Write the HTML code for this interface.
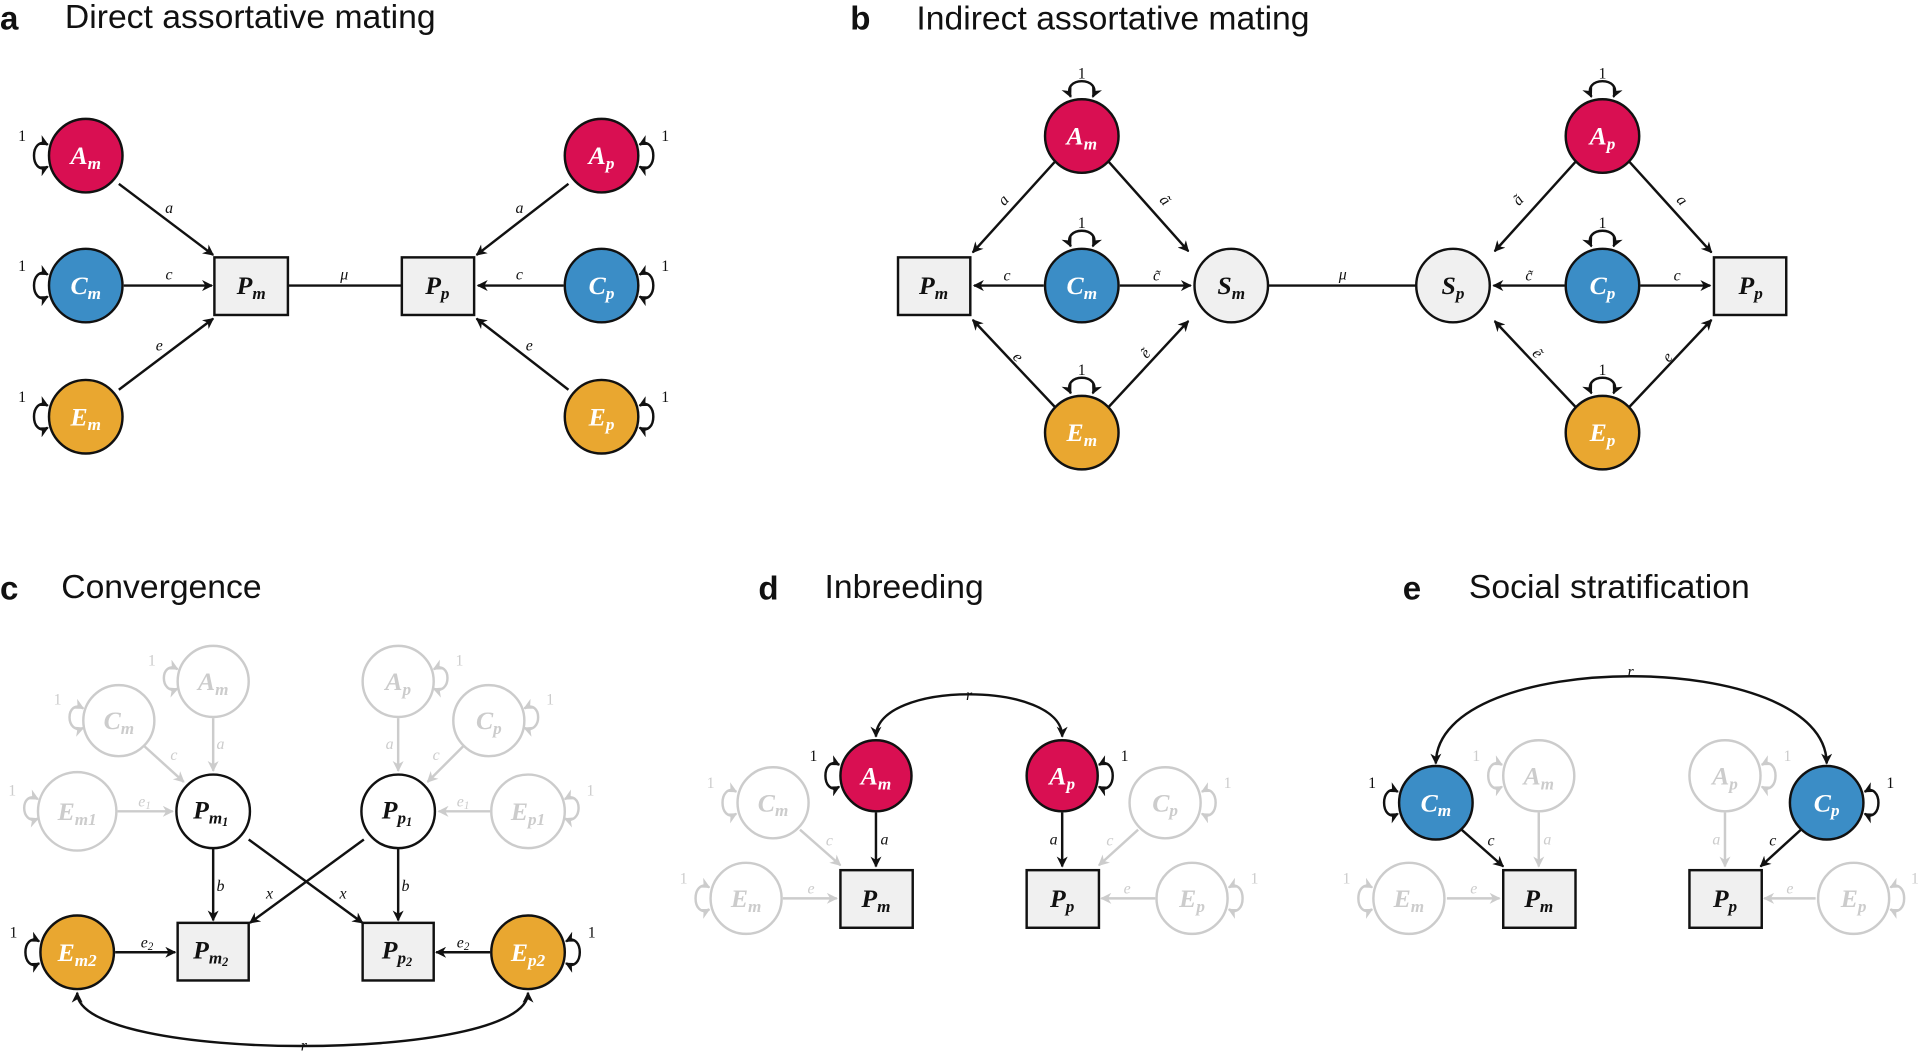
<!DOCTYPE html>
<html><head><meta charset="utf-8"><style>
html,body{margin:0;padding:0;background:#fff;}
svg{display:block}
.h{font-family:"Liberation Sans",sans-serif;font-size:27.5px;fill:#111}
.hb{font-family:"Liberation Sans",sans-serif;font-size:27px;font-weight:bold;fill:#111}
.nl{font-family:"Liberation Serif",serif;font-style:italic;font-weight:bold;font-size:21px;text-anchor:middle}
.el{font-family:"Liberation Serif",serif;font-style:italic;font-size:13px;text-anchor:middle;fill:#111}
.one{font-family:"Liberation Serif",serif;font-size:13px;text-anchor:middle;fill:#111}
.w{fill:#fff}.k{fill:#111}.g{fill:#ccc}
.ln{stroke:#111;stroke-width:2;fill:none}
.lg{stroke:#ccc;stroke-width:2;fill:none}
.ob{stroke:#111;stroke-width:2}
.og{stroke:#ccc;stroke-width:2;fill:#fff}
</style></head><body>
<svg width="1921" height="1054" viewBox="0 0 1568 860" preserveAspectRatio="none" xmlns="http://www.w3.org/2000/svg">
<defs>
<marker id="ak" viewBox="0 0 10 10" refX="9" refY="5" markerWidth="9" markerHeight="9" markerUnits="userSpaceOnUse" orient="auto-start-reverse"><path d="M0,0 L10,5 L0,10 L3,5 z" fill="#111"/></marker>
<marker id="ag" viewBox="0 0 10 10" refX="9" refY="5" markerWidth="9" markerHeight="9" markerUnits="userSpaceOnUse" orient="auto-start-reverse"><path d="M0,0 L10,5 L0,10 L3,5 z" fill="#ccc"/></marker>
</defs>

<text class="hb" x="0" y="24">a</text><text class="h" x="53" y="23">Direct assortative mating</text>
<text class="hb" x="694" y="24">b</text><text class="h" x="748" y="24">Indirect assortative mating</text>
<text class="hb" x="0" y="489">c</text><text class="h" x="50" y="488">Convergence</text>
<text class="hb" x="619" y="489">d</text><text class="h" x="673" y="488">Inbreeding</text>
<text class="hb" x="1145" y="489">e</text><text class="h" x="1199" y="488">Social stratification</text>

<g>
<path class="ln" d="M97,150 L174,208" marker-end="url(#ak)"/><text class="el" x="138" y="174">a</text>
<path class="ln" d="M101,233 L173,233" marker-end="url(#ak)"/><text class="el" x="138" y="228">c</text>
<path class="ln" d="M97,318 L174,260" marker-end="url(#ak)"/><text class="el" x="130" y="286">e</text>
<path class="ln" d="M235,233 L328,233"/><text class="el" x="281" y="228">μ</text>
<path class="ln" d="M464,150 L389,208" marker-end="url(#ak)"/><text class="el" x="424" y="174">a</text>
<path class="ln" d="M460,233 L390,233" marker-end="url(#ak)"/><text class="el" x="424" y="228">c</text>
<path class="ln" d="M464,318 L389,260" marker-end="url(#ak)"/><text class="el" x="432" y="286">e</text>
<rect x="175" y="210" width="60" height="47" fill="#f0f0f0" class="ob"/><text class="nl k" x="205" y="240">P<tspan font-size="14" dy="4">m</tspan></text>
<rect x="328" y="210" width="59" height="47" fill="#f0f0f0" class="ob"/><text class="nl k" x="357" y="240">P<tspan font-size="14" dy="4">p</tspan></text>
<circle cx="70" cy="127" r="30" fill="#d90f52" class="ob"/><text class="nl w" x="70" y="134">A<tspan font-size="14" dy="4">m</tspan></text>
<circle cx="70" cy="233" r="30" fill="#3b8dc6" class="ob"/><text class="nl w" x="70" y="240">C<tspan font-size="14" dy="4">m</tspan></text>
<circle cx="70" cy="340" r="30" fill="#e9a730" class="ob"/><text class="nl w" x="70" y="347">E<tspan font-size="14" dy="4">m</tspan></text>
<circle cx="491" cy="127" r="30" fill="#d90f52" class="ob"/><text class="nl w" x="491" y="134">A<tspan font-size="14" dy="4">p</tspan></text>
<circle cx="491" cy="233" r="30" fill="#3b8dc6" class="ob"/><text class="nl w" x="491" y="240">C<tspan font-size="14" dy="4">p</tspan></text>
<circle cx="491" cy="340" r="30" fill="#e9a730" class="ob"/><text class="nl w" x="491" y="347">E<tspan font-size="14" dy="4">p</tspan></text>
<path class="ln" d="M39,118 C24,110 24,144 39,136" marker-start="url(#ak)" marker-end="url(#ak)"/><text class="one" x="18" y="115">1</text>
<path class="ln" d="M39,224 C24,216 24,250 39,242" marker-start="url(#ak)" marker-end="url(#ak)"/><text class="one" x="18" y="221">1</text>
<path class="ln" d="M39,331 C24,323 24,357 39,349" marker-start="url(#ak)" marker-end="url(#ak)"/><text class="one" x="18" y="328">1</text>
<path class="ln" d="M522,118 C537,110 537,144 522,136" marker-start="url(#ak)" marker-end="url(#ak)"/><text class="one" x="543" y="115">1</text>
<path class="ln" d="M522,224 C537,216 537,250 522,242" marker-start="url(#ak)" marker-end="url(#ak)"/><text class="one" x="543" y="221">1</text>
<path class="ln" d="M522,331 C537,323 537,357 522,349" marker-start="url(#ak)" marker-end="url(#ak)"/><text class="one" x="543" y="328">1</text>
</g>

<g>
<path class="ln" d="M861,132 L794,206" marker-end="url(#ak)"/><text class="el" x="822" y="166" transform="rotate(-48 822 166)">a</text>
<path class="ln" d="M905,132 L970,205" marker-end="url(#ak)"/><text class="el" x="948" y="166" transform="rotate(48 948 166)">ã</text>
<path class="ln" d="M852,233 L795,233" marker-end="url(#ak)"/><text class="el" x="822" y="229">c</text>
<path class="ln" d="M914,233 L972,233" marker-end="url(#ak)"/><text class="el" x="944" y="229">c̃</text>
<path class="ln" d="M861,332 L794,261" marker-end="url(#ak)"/><text class="el" x="828" y="294" transform="rotate(48 828 294)">e</text>
<path class="ln" d="M905,332 L970,262" marker-end="url(#ak)"/><text class="el" x="938" y="291" transform="rotate(-48 938 291)">ẽ</text>
<path class="ln" d="M1035,233 L1156,233"/><text class="el" x="1096" y="228">μ</text>
<path class="ln" d="M1330,132 L1397,206" marker-end="url(#ak)"/><text class="el" x="1370" y="166" transform="rotate(48 1370 166)">a</text>
<path class="ln" d="M1286,132 L1220,205" marker-end="url(#ak)"/><text class="el" x="1242" y="166" transform="rotate(-48 1242 166)">ã</text>
<path class="ln" d="M1339,233 L1396,233" marker-end="url(#ak)"/><text class="el" x="1369" y="229">c</text>
<path class="ln" d="M1277,233 L1219,233" marker-end="url(#ak)"/><text class="el" x="1248" y="229">c̃</text>
<path class="ln" d="M1330,332 L1397,261" marker-end="url(#ak)"/><text class="el" x="1364" y="294" transform="rotate(-48 1364 294)">e</text>
<path class="ln" d="M1286,332 L1220,262" marker-end="url(#ak)"/><text class="el" x="1252" y="291" transform="rotate(48 1252 291)">ẽ</text>
<rect x="733" y="210" width="59" height="47" fill="#f0f0f0" class="ob"/><text class="nl k" x="762" y="240">P<tspan font-size="14" dy="4">m</tspan></text>
<rect x="1399" y="210" width="59" height="47" fill="#f0f0f0" class="ob"/><text class="nl k" x="1429" y="240">P<tspan font-size="14" dy="4">p</tspan></text>
<circle cx="1005" cy="233" r="30" fill="#f0f0f0" class="ob"/><text class="nl k" x="1005" y="240">S<tspan font-size="14" dy="4">m</tspan></text>
<circle cx="1186" cy="233" r="30" fill="#f0f0f0" class="ob"/><text class="nl k" x="1186" y="240">S<tspan font-size="14" dy="4">p</tspan></text>
<circle cx="883" cy="111" r="30" fill="#d90f52" class="ob"/><text class="nl w" x="883" y="118">A<tspan font-size="14" dy="4">m</tspan></text>
<circle cx="883" cy="233" r="30" fill="#3b8dc6" class="ob"/><text class="nl w" x="883" y="240">C<tspan font-size="14" dy="4">m</tspan></text>
<circle cx="883" cy="353" r="30" fill="#e9a730" class="ob"/><text class="nl w" x="883" y="360">E<tspan font-size="14" dy="4">m</tspan></text>
<circle cx="1308" cy="111" r="30" fill="#d90f52" class="ob"/><text class="nl w" x="1308" y="118">A<tspan font-size="14" dy="4">p</tspan></text>
<circle cx="1308" cy="233" r="30" fill="#3b8dc6" class="ob"/><text class="nl w" x="1308" y="240">C<tspan font-size="14" dy="4">p</tspan></text>
<circle cx="1308" cy="353" r="30" fill="#e9a730" class="ob"/><text class="nl w" x="1308" y="360">E<tspan font-size="14" dy="4">p</tspan></text>
<path class="ln" d="M874,79 C866,62 900,62 892,79" marker-start="url(#ak)" marker-end="url(#ak)"/><text class="one" x="883" y="64">1</text>
<path class="ln" d="M874,201 C866,184 900,184 892,201" marker-start="url(#ak)" marker-end="url(#ak)"/><text class="one" x="883" y="186">1</text>
<path class="ln" d="M874,321 C866,304 900,304 892,321" marker-start="url(#ak)" marker-end="url(#ak)"/><text class="one" x="883" y="306">1</text>
<path class="ln" d="M1299,79 C1291,62 1325,62 1317,79" marker-start="url(#ak)" marker-end="url(#ak)"/><text class="one" x="1308" y="64">1</text>
<path class="ln" d="M1299,201 C1291,184 1325,184 1317,201" marker-start="url(#ak)" marker-end="url(#ak)"/><text class="one" x="1308" y="186">1</text>
<path class="ln" d="M1299,321 C1291,304 1325,304 1317,321" marker-start="url(#ak)" marker-end="url(#ak)"/><text class="one" x="1308" y="306">1</text>
</g>

<g>
<path class="lg" d="M174,586 L174,629" marker-end="url(#ag)"/><text class="el g" x="180" y="611">a</text>
<path class="lg" d="M118,609 L150,638" marker-end="url(#ag)"/><text class="el g" x="142" y="620">c</text>
<path class="lg" d="M96,662 L141,662" marker-end="url(#ag)"/><text class="el g" x="118" y="658">e<tspan font-size="9" dy="2">1</tspan></text>
<path class="lg" d="M325,586 L325,629" marker-end="url(#ag)"/><text class="el g" x="318" y="611">a</text>
<path class="lg" d="M378,609 L349,638" marker-end="url(#ag)"/><text class="el g" x="356" y="620">c</text>
<path class="lg" d="M400,662 L358,662" marker-end="url(#ag)"/><text class="el g" x="378" y="658">e<tspan font-size="9" dy="2">1</tspan></text>
<circle cx="174" cy="556" r="29" class="og"/><text class="nl g" x="174" y="563">A<tspan font-size="14" dy="4">m</tspan></text>
<circle cx="97" cy="588" r="29" class="og"/><text class="nl g" x="97" y="595">C<tspan font-size="14" dy="4">m</tspan></text>
<circle cx="63" cy="662" r="32" class="og"/><text class="nl g" x="63" y="669">E<tspan font-size="14" dy="4">m1</tspan></text>
<circle cx="325" cy="556" r="29" class="og"/><text class="nl g" x="325" y="563">A<tspan font-size="14" dy="4">p</tspan></text>
<circle cx="399" cy="588" r="29" class="og"/><text class="nl g" x="399" y="595">C<tspan font-size="14" dy="4">p</tspan></text>
<circle cx="431" cy="662" r="30" class="og"/><text class="nl g" x="431" y="669">E<tspan font-size="14" dy="4">p1</tspan></text>
<path class="lg" d="M145,546 C130,538 130,568 145,562" marker-start="url(#ag)" marker-end="url(#ag)"/><text class="one g" x="124" y="543">1</text>
<path class="lg" d="M68,578 C53,570 53,600 68,594" marker-start="url(#ag)" marker-end="url(#ag)"/><text class="one g" x="47" y="575">1</text>
<path class="lg" d="M31,652 C16,644 16,674 31,668" marker-start="url(#ag)" marker-end="url(#ag)"/><text class="one g" x="10" y="649">1</text>
<path class="lg" d="M354,546 C369,538 369,568 354,562" marker-start="url(#ag)" marker-end="url(#ag)"/><text class="one g" x="375" y="543">1</text>
<path class="lg" d="M428,578 C443,570 443,600 428,594" marker-start="url(#ag)" marker-end="url(#ag)"/><text class="one g" x="449" y="575">1</text>
<path class="lg" d="M461,652 C476,644 476,674 461,668" marker-start="url(#ag)" marker-end="url(#ag)"/><text class="one g" x="482" y="649">1</text>
<path class="ln" d="M174,692 L174,751" marker-end="url(#ak)"/><text class="el" x="180" y="727">b</text>
<path class="ln" d="M325,692 L325,751" marker-end="url(#ak)"/><text class="el" x="331" y="727">b</text>
<path class="ln" d="M203,685 L296,753" marker-end="url(#ak)"/><text class="el" x="280" y="733">x</text>
<path class="ln" d="M297,685 L204,753" marker-end="url(#ak)"/><text class="el" x="220" y="733">x</text>
<path class="ln" d="M94,777 L143,777" marker-end="url(#ak)"/><text class="el" x="120" y="773">e<tspan font-size="9" dy="2">2</tspan></text>
<path class="ln" d="M400,777 L356,777" marker-end="url(#ak)"/><text class="el" x="378" y="773">e<tspan font-size="9" dy="2">2</tspan></text>
<path class="ln" d="M63,810 C63,868 431,868 431,810" marker-start="url(#ak)" marker-end="url(#ak)"/><text class="el" x="248" y="857">r</text>
<circle cx="174" cy="662" r="30" fill="#fff" class="ob"/><text class="nl k" x="172" y="668">P<tspan font-size="14" dy="4">m<tspan font-size="10" dy="2">1</tspan></tspan></text>
<circle cx="325" cy="662" r="30" fill="#fff" class="ob"/><text class="nl k" x="324" y="668">P<tspan font-size="14" dy="4">p<tspan font-size="10" dy="2">1</tspan></tspan></text>
<rect x="145" y="753" width="58" height="47" fill="#f0f0f0" class="ob"/><text class="nl k" x="172" y="782">P<tspan font-size="14" dy="4">m<tspan font-size="10" dy="2">2</tspan></tspan></text>
<rect x="296" y="753" width="58" height="47" fill="#f0f0f0" class="ob"/><text class="nl k" x="324" y="782">P<tspan font-size="14" dy="4">p<tspan font-size="10" dy="2">2</tspan></tspan></text>
<circle cx="63" cy="777" r="30" fill="#e9a730" class="ob"/><text class="nl w" x="63" y="784">E<tspan font-size="14" dy="4">m2</tspan></text>
<circle cx="431" cy="777" r="30" fill="#e9a730" class="ob"/><text class="nl w" x="431" y="784">E<tspan font-size="14" dy="4">p2</tspan></text>
<path class="ln" d="M32,768 C17,760 17,794 32,786" marker-start="url(#ak)" marker-end="url(#ak)"/><text class="one" x="11" y="765">1</text>
<path class="ln" d="M462,768 C477,760 477,794 462,786" marker-start="url(#ak)" marker-end="url(#ak)"/><text class="one" x="483" y="765">1</text>
</g>

<g>
<path class="lg" d="M653,677 L686,706" marker-end="url(#ag)"/><text class="el g" x="677" y="690">c</text>
<path class="lg" d="M639,733 L683,733" marker-end="url(#ag)"/><text class="el g" x="662" y="729">e</text>
<path class="lg" d="M929,677 L897,706" marker-end="url(#ag)"/><text class="el g" x="906" y="690">c</text>
<path class="lg" d="M943,733 L899,733" marker-end="url(#ag)"/><text class="el g" x="920" y="729">e</text>
<circle cx="631" cy="655" r="29" class="og"/><text class="nl g" x="631" y="662">C<tspan font-size="14" dy="4">m</tspan></text>
<circle cx="609" cy="733" r="29" class="og"/><text class="nl g" x="609" y="740">E<tspan font-size="14" dy="4">m</tspan></text>
<circle cx="951" cy="655" r="29" class="og"/><text class="nl g" x="951" y="662">C<tspan font-size="14" dy="4">p</tspan></text>
<circle cx="973" cy="733" r="29" class="og"/><text class="nl g" x="973" y="740">E<tspan font-size="14" dy="4">p</tspan></text>
<path class="lg" d="M601,646 C586,638 586,672 601,664" marker-start="url(#ag)" marker-end="url(#ag)"/><text class="one g" x="580" y="643">1</text>
<path class="lg" d="M579,724 C564,716 564,750 579,742" marker-start="url(#ag)" marker-end="url(#ag)"/><text class="one g" x="558" y="721">1</text>
<path class="lg" d="M981,646 C996,638 996,672 981,664" marker-start="url(#ag)" marker-end="url(#ag)"/><text class="one g" x="1002" y="643">1</text>
<path class="lg" d="M1003,724 C1018,716 1018,750 1003,742" marker-start="url(#ag)" marker-end="url(#ag)"/><text class="one g" x="1024" y="721">1</text>
<path class="ln" d="M715,663 L715,707" marker-end="url(#ak)"/><text class="el" x="722" y="689">a</text>
<path class="ln" d="M867,663 L867,707" marker-end="url(#ak)"/><text class="el" x="860" y="689">a</text>
<path class="ln" d="M715,601 C715,555 867,555 867,601" marker-start="url(#ak)" marker-end="url(#ak)"/><text class="el" x="791" y="571">r</text>
<rect x="686" y="710" width="59" height="47" fill="#f0f0f0" class="ob"/><text class="nl k" x="715" y="740">P<tspan font-size="14" dy="4">m</tspan></text>
<rect x="838" y="710" width="59" height="47" fill="#f0f0f0" class="ob"/><text class="nl k" x="867" y="740">P<tspan font-size="14" dy="4">p</tspan></text>
<circle cx="715" cy="633" r="29" fill="#d90f52" class="ob"/><text class="nl w" x="715" y="640">A<tspan font-size="14" dy="4">m</tspan></text>
<circle cx="867" cy="633" r="29" fill="#d90f52" class="ob"/><text class="nl w" x="867" y="640">A<tspan font-size="14" dy="4">p</tspan></text>
<path class="ln" d="M685,624 C670,616 670,650 685,642" marker-start="url(#ak)" marker-end="url(#ak)"/><text class="one" x="664" y="621">1</text>
<path class="ln" d="M897,624 C912,616 912,650 897,642" marker-start="url(#ak)" marker-end="url(#ak)"/><text class="one" x="918" y="621">1</text>
</g>

<g>
<path class="lg" d="M1256,663 L1256,707" marker-end="url(#ag)"/><text class="el g" x="1263" y="689">a</text>
<path class="lg" d="M1181,733 L1224,733" marker-end="url(#ag)"/><text class="el g" x="1203" y="729">e</text>
<path class="lg" d="M1408,663 L1408,707" marker-end="url(#ag)"/><text class="el g" x="1401" y="689">a</text>
<path class="lg" d="M1482,733 L1440,733" marker-end="url(#ag)"/><text class="el g" x="1461" y="729">e</text>
<circle cx="1256" cy="633" r="29" class="og"/><text class="nl g" x="1256" y="640">A<tspan font-size="14" dy="4">m</tspan></text>
<circle cx="1150" cy="733" r="29" class="og"/><text class="nl g" x="1150" y="740">E<tspan font-size="14" dy="4">m</tspan></text>
<circle cx="1408" cy="633" r="29" class="og"/><text class="nl g" x="1408" y="640">A<tspan font-size="14" dy="4">p</tspan></text>
<circle cx="1513" cy="733" r="29" class="og"/><text class="nl g" x="1513" y="740">E<tspan font-size="14" dy="4">p</tspan></text>
<path class="lg" d="M1226,624 C1211,616 1211,650 1226,642" marker-start="url(#ag)" marker-end="url(#ag)"/><text class="one g" x="1205" y="621">1</text>
<path class="lg" d="M1120,724 C1105,716 1105,750 1120,742" marker-start="url(#ag)" marker-end="url(#ag)"/><text class="one g" x="1099" y="721">1</text>
<path class="lg" d="M1438,624 C1453,616 1453,650 1438,642" marker-start="url(#ag)" marker-end="url(#ag)"/><text class="one g" x="1459" y="621">1</text>
<path class="lg" d="M1543,724 C1558,716 1558,750 1543,742" marker-start="url(#ag)" marker-end="url(#ag)"/><text class="one g" x="1563" y="721">1</text>
<path class="ln" d="M1193,677 L1227,707" marker-end="url(#ak)"/><text class="el" x="1217" y="690">c</text>
<path class="ln" d="M1470,677 L1437,707" marker-end="url(#ak)"/><text class="el" x="1447" y="690">c</text>
<path class="ln" d="M1172,623 C1172,528 1491,528 1491,623" marker-start="url(#ak)" marker-end="url(#ak)"/><text class="el" x="1331" y="552">r</text>
<rect x="1227" y="710" width="59" height="47" fill="#f0f0f0" class="ob"/><text class="nl k" x="1256" y="740">P<tspan font-size="14" dy="4">m</tspan></text>
<rect x="1379" y="710" width="59" height="47" fill="#f0f0f0" class="ob"/><text class="nl k" x="1408" y="740">P<tspan font-size="14" dy="4">p</tspan></text>
<circle cx="1172" cy="655" r="30" fill="#3b8dc6" class="ob"/><text class="nl w" x="1172" y="662">C<tspan font-size="14" dy="4">m</tspan></text>
<circle cx="1491" cy="655" r="30" fill="#3b8dc6" class="ob"/><text class="nl w" x="1491" y="662">C<tspan font-size="14" dy="4">p</tspan></text>
<path class="ln" d="M1141,646 C1126,638 1126,672 1141,664" marker-start="url(#ak)" marker-end="url(#ak)"/><text class="one" x="1120" y="643">1</text>
<path class="ln" d="M1522,646 C1537,638 1537,672 1522,664" marker-start="url(#ak)" marker-end="url(#ak)"/><text class="one" x="1543" y="643">1</text>
</g>
</svg>
</body></html>
